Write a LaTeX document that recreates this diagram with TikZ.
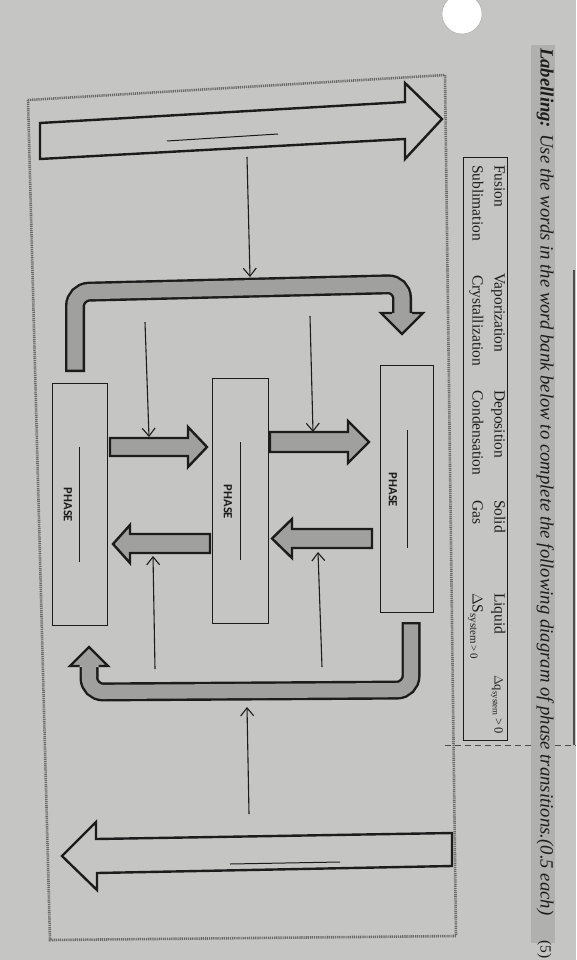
\documentclass[tikz,border=0pt]{standalone}
\usepackage{fontspec}
\setmainfont{Liberation Serif}
\newfontfamily\phasefont{Carlito}
\usetikzlibrary{arrows.meta}
\definecolor{paper}{RGB}{197,197,195}
\definecolor{band}{RGB}{176,176,174}
\definecolor{arrowgray}{RGB}{160,160,158}
\definecolor{ink}{RGB}{28,28,28}
\definecolor{frameg}{RGB}{105,105,103}
\begin{document}
\begin{tikzpicture}[x=1pt,y=-1pt,
  bigarrow/.style={draw=ink, line width=2.4pt, line join=miter},
  grayhead/.style={draw=ink, fill=arrowgray, line width=2.4pt, line join=miter},
  grayarrow/.style={draw=ink, fill=arrowgray, line width=2.4pt, line join=miter},
  phasebox/.style={draw=ink, line width=0.8pt, inner sep=0pt},
  blank/.style={draw=ink, line width=1pt},
  thinarrow/.style={draw=ink, line width=1.1pt, -{Straight Barb[length=8pt,width=13pt,line width=1.1pt]}},
  vtext/.style={rotate=-90, inner sep=0pt, anchor=mid west, text=ink},
  wbfont/.style={font=\fontsize{15.5}{17}\selectfont},
  phaselabel/.style={rotate=-90, inner sep=0pt, text=ink, font=\phasefont\bfseries\fontsize{12.5}{14}\selectfont}
]
\useasboundingbox (0,0) rectangle (576,960);
\fill[paper] (0,0) rectangle (576,960);
% photo artefacts
\draw[gray!70, fill=white] (462,14) circle (20);
\draw[gray!60!black, line width=1.2pt] (574,270) -- (574,745);
\draw[gray!60!black, line width=0.8pt, dash pattern=on 6pt off 4pt] (445,745) -- (576,745);

% title band and title
\fill[band] (531,45) rectangle (555,943);
\node[vtext, font=\fontsize{18.7}{21}\selectfont\itshape] (title) at (543,48)
  {\textbf{Labelling:} Use the words in the word bank below to complete the following diagram of phase transitions.(0.5 each)};
\node[vtext, font=\fontsize{15.5}{17}\selectfont] (five) at (543,940) {(5)};

% word bank
\node[draw=ink, line width=0.8pt, minimum width=44pt, minimum height=583pt, inner sep=0pt] (bank) at (485,448.5) {};
\node[vtext, wbfont] (w1) at (497,165) {Fusion};
\node[vtext, wbfont] (w2) at (497,273) {Vaporization};
\node[vtext, wbfont] (w3) at (497,390) {Deposition};
\node[vtext, wbfont] (w4) at (497,500) {Solid};
\node[vtext, wbfont] (w5) at (497,593) {Liquid};
\node[vtext, font=\fontsize{12.5}{14}\selectfont] (w6) at (497,675) {$\Delta$q\textsubscript{system}\,>\,0};
\node[vtext, wbfont] (w7) at (475,165) {Sublimation};
\node[vtext, wbfont] (w8) at (475,275) {Crystallization};
\node[vtext, wbfont] (w9) at (475,390) {Condensation};
\node[vtext, wbfont] (w10) at (475,500) {Gas};
\node[vtext, wbfont] (w11) at (475,593) {$\Delta$S\textsubscript{system\,>\,0}};

% dotted frame
\draw[frameg, line width=2.6pt, dash pattern=on 1.2pt off 0.9pt] (28,100) -- (445,75) -- (456,936) -- (50,940) -- cycle;

% big arrows
\draw[bigarrow] (40,123) -- (405,102) -- (405,83) -- (442,119) -- (405,159) -- (405,139) -- (40,159) -- cycle;
\draw[blank] (167,141) -- (278,134);
\draw[bigarrow] (452,833) -- (96,839) -- (96,822) -- (62,856) -- (97,890) -- (97,873) -- (452,866) -- cycle;
\draw[blank] (230,864) -- (340,862);

% phase boxes
\node[phasebox, minimum width=53pt, minimum height=247pt] (boxR) at (406.5,488.5) {};
\node[phasebox, minimum width=56pt, minimum height=245pt] (boxM) at (240,500.5) {};
\node[phasebox, minimum width=55pt, minimum height=242pt] (boxL) at (79.5,504) {};
\node[phaselabel] (pR) at (393,490) {PHASE};
\node[phaselabel] (pM) at (228,502) {PHASE};
\node[phaselabel] (pL) at (68,505) {PHASE};
\draw[blank] (407,430) -- (407,548);
\draw[blank] (240,442) -- (240,560);
\draw[blank] (79,447) -- (79,562);

% top U arrow
\draw[ink, line width=20pt, rounded corners=14pt] (75,372) -- (75,292) -- (402,284) -- (402,314);
\draw[arrowgray, line width=15.2pt, rounded corners=14pt] (75,369.5) -- (75,292) -- (402,284) -- (402,316);
\filldraw[grayhead] (392,313) -- (381,313) -- (402,334) -- (423,313) -- (412,313);
% bottom U arrow
\draw[ink, line width=19pt, rounded corners=14pt] (411,622) -- (411,690) -- (89,692) -- (89,667);
\draw[arrowgray, line width=14.2pt, rounded corners=14pt] (411,624.4) -- (411,690) -- (89,692) -- (89,665);
\filldraw[grayhead] (79.5,666) -- (70,666) -- (89,647) -- (108,666) -- (98.5,666);

% small gray arrows
\draw[grayarrow] (110,438) -- (188,438) -- (188,427) -- (207,447) -- (188,467) -- (188,456) -- (110,456) -- cycle;
\draw[grayarrow] (210,534) -- (130,534) -- (130,525) -- (113,544) -- (130,563) -- (130,553) -- (210,553) -- cycle;
\draw[grayarrow] (270,432) -- (348,432) -- (348,421) -- (369,442) -- (348,463) -- (348,452) -- (270,452) -- cycle;
\draw[grayarrow] (372,529) -- (292,529) -- (292,519) -- (272,538.5) -- (292,558) -- (292,548) -- (372,548) -- cycle;

% thin connectors
\coordinate (t1s) at (247,157); \coordinate (t1e) at (250,277);
\coordinate (t2s) at (145,322); \coordinate (t2e) at (149,437);
\coordinate (t3s) at (310,316); \coordinate (t3e) at (313,432);
\coordinate (t4s) at (155,669); \coordinate (t4e) at (153,556);
\coordinate (t5s) at (322,667); \coordinate (t5e) at (318,552);
\coordinate (t6s) at (249,814); \coordinate (t6e) at (247,707);
\draw[thinarrow] (t1s) -- (t1e);
\draw[thinarrow] (t2s) -- (t2e);
\draw[thinarrow] (t3s) -- (t3e);
\draw[thinarrow] (t4s) -- (t4e);
\draw[thinarrow] (t5s) -- (t5e);
\draw[thinarrow] (t6s) -- (t6e);
\end{tikzpicture}
\end{document}
